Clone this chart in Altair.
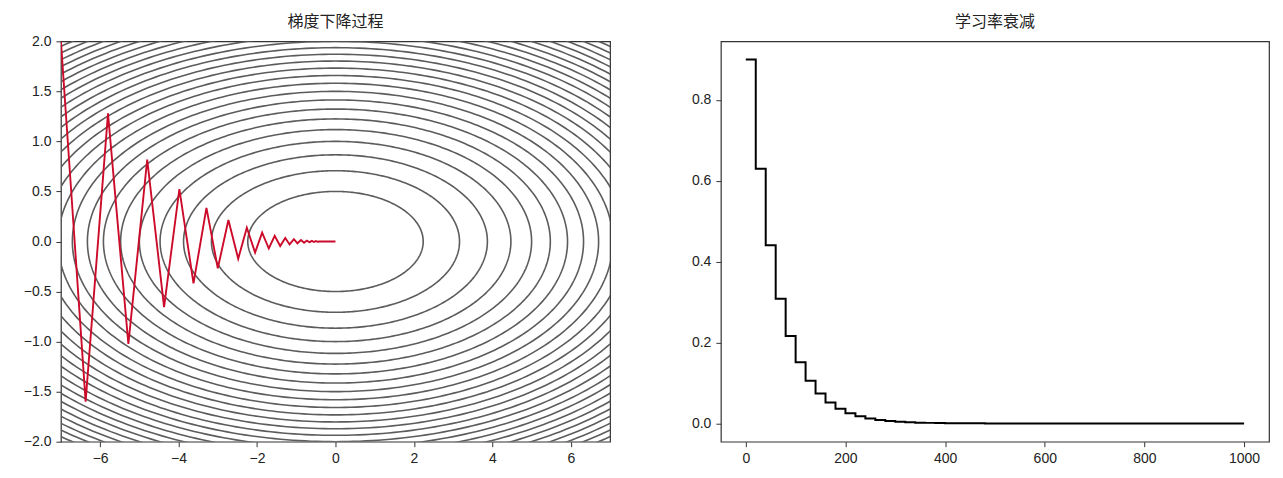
import altair as alt
import numpy as np
import pandas as pd

# ---------------- data ----------------
# gradient descent path (red)
PATH_X = [-7.0, -6.37, -5.80, -5.28, -4.80, -4.37, -3.98, -3.62, -3.29, -3.00,
          -2.73, -2.48, -2.26, -2.05, -1.87, -1.70, -1.55, -1.41, -1.28, -1.17,
          -1.06, -0.97, -0.88, -0.80, -0.73, -0.66, -0.60, -0.55, -0.50, -0.45,
          -0.41, -0.30, -0.20, -0.12, -0.06, -0.02, 0.0]
PATH_Y = [2.0, -1.6, 1.28, -1.024, 0.819, -0.655, 0.524, -0.419, 0.336, -0.268,
          0.215, -0.172, 0.137, -0.110, 0.088, -0.070, 0.056, -0.045, 0.036, -0.029,
          0.023, -0.018, 0.015, -0.012, 0.009, -0.007, 0.006, -0.005, 0.004, -0.003,
          0.0, 0.0, 0.0, 0.0, 0.0, 0.0, 0.0]

# contour levels of f(x, y) = 0.1 x^2 + 2 y^2
CONTOUR_LEVELS = [0.5, 1.0, 1.5, 2.0, 2.5, 3.0, 3.5, 4.0, 4.5, 5.0,
                  5.5, 6.0, 6.5, 7.0, 7.5, 8.0, 8.5, 9.0, 9.5, 10.0,
                  10.5, 11.0, 11.5, 12.0, 12.5, 13.0]
COEF_X = 0.1
COEF_Y = 2.0

# learning-rate schedule: one level per block of 20 steps
STEP_WIDTH = 20
LR_LEVELS = [0.9, 0.63, 0.441, 0.3087, 0.2161, 0.1513, 0.1059, 0.0741, 0.0519, 0.0363,
             0.0254, 0.0178, 0.0125, 0.0087, 0.0061, 0.0043, 0.0030, 0.0021, 0.0015, 0.0010,
             0.0007, 0.0005, 0.0004, 0.0003, 0.0002, 0.0001, 0.0001, 0.0001, 0.0, 0.0,
             0.0, 0.0, 0.0, 0.0, 0.0, 0.0, 0.0, 0.0, 0.0, 0.0,
             0.0, 0.0, 0.0, 0.0, 0.0, 0.0, 0.0, 0.0, 0.0, 0.0]
LR_END = 1000

LEFT_TITLE = "梯度下降过程"
RIGHT_TITLE = "学习率衰减"
LEFT_XTICKS = [-6, -4, -2, 0, 2, 4, 6]
LEFT_YTICKS = [-2.0, -1.5, -1.0, -0.5, 0.0, 0.5, 1.0, 1.5, 2.0]
RIGHT_XTICKS = [0, 200, 400, 600, 800, 1000]
RIGHT_YTICKS = [0.0, 0.2, 0.4, 0.6, 0.8]

# ---------------- tables ----------------
t = np.linspace(0, 2 * np.pi, 361)
rows = []
for lv in CONTOUR_LEVELS:
    a = np.sqrt(lv / COEF_X)
    b = np.sqrt(lv / COEF_Y)
    for i, tt in enumerate(t):
        rows.append({"level": lv, "i": i, "x": a * np.cos(tt), "y": b * np.sin(tt)})
contour_df = pd.DataFrame(rows)

path_df = pd.DataFrame({"i": range(len(PATH_X)), "x": PATH_X, "y": PATH_Y})

lr_x = [STEP_WIDTH * k for k in range(len(LR_LEVELS))] + [LR_END]
lr_y = LR_LEVELS + [LR_LEVELS[-1]]
lr_df = pd.DataFrame({"step": lr_x, "lr": lr_y})

TICK_FONT = "Liberation Sans"
TITLE_FONT = "Noto Sans CJK SC"

def title(txt, dy=0):
    return alt.TitleParams(txt, font=TITLE_FONT, fontSize=16, fontWeight="normal",
                           color="#222", anchor="middle", offset=4, dy=dy)

# ---------------- left panel ----------------
lx = alt.X("x:Q", scale=alt.Scale(domain=[-7, 7], nice=False, zero=False),
           axis=alt.Axis(values=LEFT_XTICKS, format="d", title=None))
ly = alt.Y("y:Q", scale=alt.Scale(domain=[-2, 2], nice=False, zero=False),
           axis=alt.Axis(values=LEFT_YTICKS, format=".1f", title=None,
                         minExtent=47, maxExtent=47))

contours = alt.Chart(contour_df).mark_line(color="#5c5c5c", strokeWidth=1.6, clip=True).encode(
    x=lx, y=ly, detail="level:N", order="i:Q")
path = alt.Chart(path_df).mark_line(color="#cc0a2a", strokeWidth=1.9, clip=True).encode(
    x=lx, y=ly, order="i:Q")

left = alt.layer(contours, path).properties(width=550, height=401, title=title(LEFT_TITLE))

# ---------------- right panel ----------------
right = alt.Chart(lr_df).mark_line(color="black", strokeWidth=2, interpolate="step-after").encode(
    x=alt.X("step:Q", scale=alt.Scale(domain=[-50, 1050], nice=False, zero=False),
            axis=alt.Axis(values=RIGHT_XTICKS, format="d", title=None)),
    y=alt.Y("lr:Q", scale=alt.Scale(domain=[-0.045, 0.945], nice=False, zero=False),
            axis=alt.Axis(values=RIGHT_YTICKS, format=".1f", title=None,
                          minExtent=40, maxExtent=40)),
).properties(width=549, height=401, title=title(RIGHT_TITLE, dy=-7))

chart = alt.hconcat(left, right, spacing=69).configure(
    background="white"
).configure_view(
    stroke="#333", strokeWidth=1.2
).configure_axis(
    grid=False, domain=False, ticks=True, tickSize=5, tickColor="#333",
    labelFont=TICK_FONT, labelFontSize=14, labelColor="#222", labelPadding=5
)

chart.save("out.html", embed_options={"renderer": "svg", "actions": False})
